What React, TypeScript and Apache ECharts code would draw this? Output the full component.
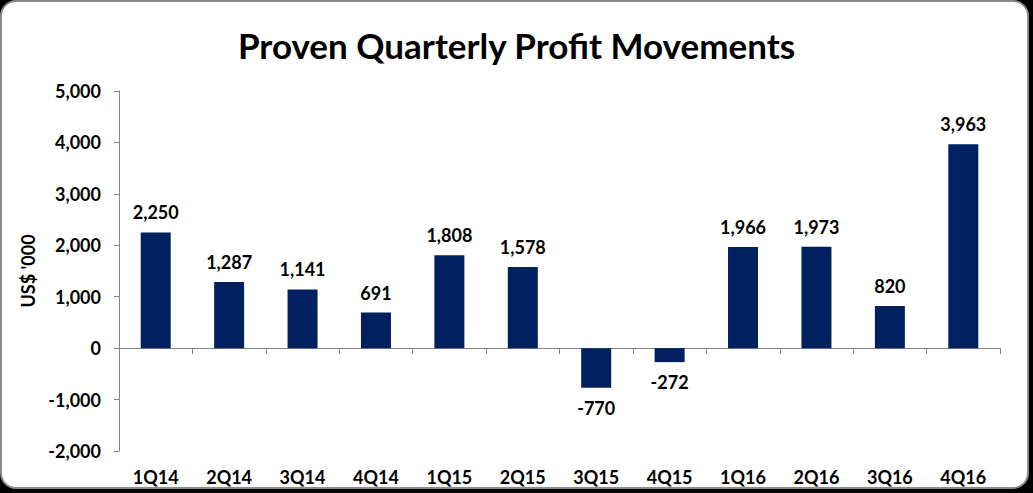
import React, { useEffect, useRef } from "react";
import * as echarts from "echarts";

const categories = ["1Q14", "2Q14", "3Q14", "4Q14", "1Q15", "2Q15", "3Q15", "4Q15", "1Q16", "2Q16", "3Q16", "4Q16"];
const profits = [2250, 1287, 1141, 691, 1808, 1578, -770, -272, 1966, 1973, 820, 3963];
const yMin = -2000;
const yMax = 5000;
const yStep = 1000;

const FONT = "Lato, 'Open Sans', sans-serif";
const fmt = (v: number) => v.toLocaleString("en-US");

export default function App() {
  const ref = useRef<HTMLDivElement>(null);
  useEffect(() => {
    document.body.style.margin = "0";
    const chart = echarts.init(ref.current!, undefined, { renderer: "svg" });
    chart.setOption({
      animation: false,
      title: {
        text: "Proven Quarterly Profit Movements",
        left: "center",
        top: 22,
        textStyle: { fontFamily: FONT, fontWeight: "bold", fontSize: 35, color: "#000" },
      },
      grid: { left: 119, right: 33, top: 91, bottom: 42, outerBoundsMode: "none", containLabel: false },
      xAxis: [
        {
          type: "category",
          data: categories,
          position: "bottom",
          offset: 0,
          axisLine: { show: false, onZero: false },
          axisTick: { show: false },
          axisLabel: {
            margin: 17,
            fontFamily: FONT,
            fontWeight: "bold",
            fontSize: 18,
            color: "#000",
          },
        },
        {
          type: "category",
          data: categories,
          position: "bottom",
          offset: 0,
          axisLine: { show: true, onZero: true, lineStyle: { color: "#868686", width: 1 } },
          axisTick: { show: true, length: 6, lineStyle: { color: "#868686" } },
          axisLabel: { show: false },
        },
      ],
      yAxis: {
        type: "value",
        min: yMin,
        max: yMax,
        interval: yStep,
        name: "US$ '000",
        nameLocation: "middle",
        nameGap: 80,
        nameTextStyle: { fontFamily: FONT, fontWeight: "bold", fontSize: 18, color: "#000" },
        axisLine: { show: true, lineStyle: { color: "#868686" } },
        axisTick: { show: true, length: 5, lineStyle: { color: "#868686" } },
        splitLine: { show: false },
        axisLabel: {
          margin: 18,
          formatter: (v: number) => fmt(v),
          fontFamily: FONT,
          fontWeight: "bold",
          fontSize: 18,
          color: "#000",
        },
      },
      series: [
        {
          type: "bar",
          xAxisIndex: 0,
          barWidth: 30,
          itemStyle: { color: "#002060" },
          data: profits.map((v) => ({
            value: v,
            label: { position: v < 0 ? "bottom" : "top" },
          })),
          label: {
            show: true,
            distance: 11,
            formatter: (p: any) => fmt(p.value),
            fontFamily: FONT,
            fontWeight: "bold",
            fontSize: 18,
            color: "#000",
          },
        },
      ],
    });
    return () => chart.dispose();
  }, []);
  return (
    <div style={{ position: "fixed", left: 0, top: 0, width: 1033, height: 493, background: "#000" }}>
      <div
        style={{
          position: "absolute",
          left: 0,
          top: 0,
          width: 1029,
          height: 489,
          boxSizing: "border-box",
          background: "#fff",
          border: "2px solid #8c8c8c",
          borderRadius: 16,
          overflow: "hidden",
        }}
      >
        <div ref={ref} style={{ position: "absolute", left: -2, top: -2, width: 1033, height: 493 }} />
      </div>
    </div>
  );
}
